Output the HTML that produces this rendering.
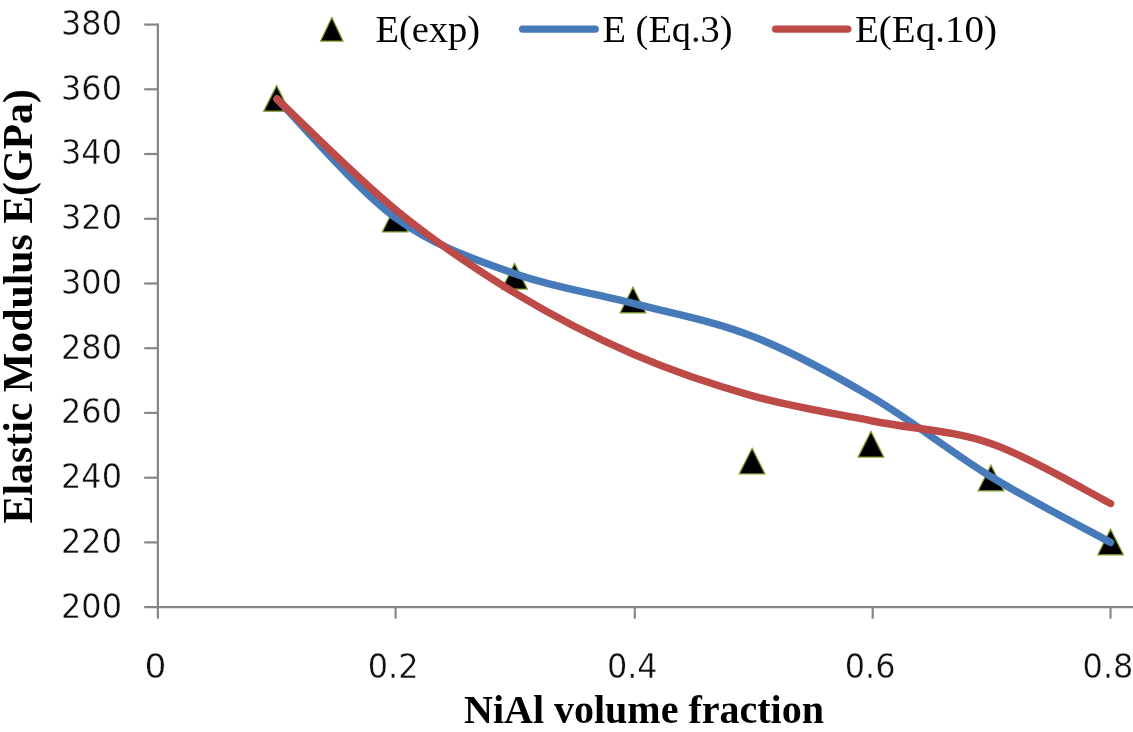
<!DOCTYPE html>
<html><head><meta charset="utf-8"><title>Elastic Modulus vs NiAl volume fraction</title>
<style>
html,body{margin:0;padding:0;background:#fff;}
body{width:1133px;height:732px;overflow:hidden;}
svg{display:block;}
.num{font-family:"DejaVu Sans","Liberation Sans",sans-serif;font-size:33.8px;fill:#101010;stroke:#fff;stroke-width:0.4px;}
.leg{font-family:"Liberation Serif",serif;font-size:38.5px;fill:#000;}
.ttl{font-family:"Liberation Serif",serif;font-weight:bold;fill:#000;}
</style></head><body>
<svg width="1133" height="732" viewBox="0 0 1133 732">
<rect width="1133" height="732" fill="#fff"/>
<g stroke="#878787" stroke-width="2.2" fill="none">
<line x1="157.9" y1="23.6" x2="157.9" y2="618.7"/>
<line x1="144.2" y1="607.1" x2="1133" y2="607.1"/>
<line x1="144.2" y1="542.4" x2="158" y2="542.4"/>
<line x1="144.2" y1="477.7" x2="158" y2="477.7"/>
<line x1="144.2" y1="412.9" x2="158" y2="412.9"/>
<line x1="144.2" y1="348.2" x2="158" y2="348.2"/>
<line x1="144.2" y1="283.5" x2="158" y2="283.5"/>
<line x1="144.2" y1="218.8" x2="158" y2="218.8"/>
<line x1="144.2" y1="154.0" x2="158" y2="154.0"/>
<line x1="144.2" y1="89.3" x2="158" y2="89.3"/>
<line x1="144.2" y1="24.6" x2="158" y2="24.6"/>
<line x1="395.6" y1="607" x2="395.6" y2="618.7"/>
<line x1="634.8" y1="607" x2="634.8" y2="618.7"/>
<line x1="872.7" y1="607" x2="872.7" y2="618.7"/>
<line x1="1110.5" y1="607" x2="1110.5" y2="618.7"/>
</g>
<g class="num">
<text x="122" y="617.5" text-anchor="end" textLength="61" lengthAdjust="spacingAndGlyphs">200</text>
<text x="122" y="552.8" text-anchor="end" textLength="61" lengthAdjust="spacingAndGlyphs">220</text>
<text x="122" y="488.1" text-anchor="end" textLength="61" lengthAdjust="spacingAndGlyphs">240</text>
<text x="122" y="423.3" text-anchor="end" textLength="61" lengthAdjust="spacingAndGlyphs">260</text>
<text x="122" y="358.6" text-anchor="end" textLength="61" lengthAdjust="spacingAndGlyphs">280</text>
<text x="122" y="293.9" text-anchor="end" textLength="61" lengthAdjust="spacingAndGlyphs">300</text>
<text x="122" y="229.2" text-anchor="end" textLength="61" lengthAdjust="spacingAndGlyphs">320</text>
<text x="122" y="164.4" text-anchor="end" textLength="61" lengthAdjust="spacingAndGlyphs">340</text>
<text x="122" y="99.7" text-anchor="end" textLength="61" lengthAdjust="spacingAndGlyphs">360</text>
<text x="122" y="35.0" text-anchor="end" textLength="61" lengthAdjust="spacingAndGlyphs">380</text>
<text x="155.4" y="678" text-anchor="middle" textLength="21.9" lengthAdjust="spacingAndGlyphs">0</text>
<text x="393.1" y="678" text-anchor="middle" textLength="50.8" lengthAdjust="spacingAndGlyphs">0.2</text>
<text x="632.3" y="678" text-anchor="middle" textLength="50.8" lengthAdjust="spacingAndGlyphs">0.4</text>
<text x="870.2" y="678" text-anchor="middle" textLength="50.8" lengthAdjust="spacingAndGlyphs">0.6</text>
<text x="1108.0" y="678" text-anchor="middle" textLength="50.8" lengthAdjust="spacingAndGlyphs">0.8</text>
</g>
<g fill="#000" stroke="#7f9e2b" stroke-width="1.25" stroke-linejoin="miter">
<path d="M276.6 85.6 L289.4 111.2 L263.7 111.2 Z"/>
<path d="M395.2 206.3 L408.1 231.9 L382.3 231.9 Z"/>
<path d="M514.6 263.5 L527.4 289.1 L501.7 289.1 Z"/>
<path d="M633.0 287.2 L645.8 312.8 L620.1 312.8 Z"/>
<path d="M752.1 448.3 L764.9 473.9 L739.2 473.9 Z"/>
<path d="M871.0 431.5 L883.8 457.1 L858.1 457.1 Z"/>
<path d="M991.0 465.2 L1003.8 490.8 L978.1 490.8 Z"/>
<path d="M1110.6 529.2 L1123.4 554.8 L1097.8 554.8 Z"/>
</g>
<path d="M276.9 99.0 C296.8 118.9 356.3 189.0 396.0 218.1 C435.7 247.2 475.4 259.5 515.1 273.8 C554.8 288.0 594.5 293.1 634.2 303.6 C673.9 314.0 713.6 320.9 753.3 336.6 C793.0 352.2 832.7 374.0 872.4 397.4 C912.1 420.8 951.8 452.8 991.5 477.0 C1031.2 501.2 1090.8 531.5 1110.6 542.4" fill="none" stroke="#467ab9" stroke-width="7.4" stroke-linecap="round" stroke-linejoin="round"/>
<path d="M276.9 99.0 C296.8 117.5 356.3 177.7 396.0 210.0 C435.7 242.4 475.4 269.1 515.1 293.2 C554.8 317.3 594.5 337.5 634.2 354.7 C673.9 371.8 713.6 385.0 753.3 396.1 C793.0 407.2 832.7 413.1 872.4 421.0 C912.1 429.0 951.8 429.9 991.5 443.7 C1031.2 457.4 1090.8 493.6 1110.6 503.5" fill="none" stroke="#be4a47" stroke-width="7.4" stroke-linecap="round" stroke-linejoin="round"/>
<g fill="#000" stroke="#7f9e2b" stroke-width="1.25">
<path d="M331.8 17.6 L343.0 41.0 L320.6 41.0 Z"/>
</g>
<line x1="522.6" y1="29.1" x2="595.2" y2="29.1" stroke="#467ab9" stroke-width="7.4" stroke-linecap="round"/>
<line x1="775.6" y1="29.1" x2="847.8" y2="29.1" stroke="#be4a47" stroke-width="7.4" stroke-linecap="round"/>
<g class="leg">
<text x="375.4" y="41.6">E(exp)</text>
<text x="602.6" y="41.6" textLength="130" lengthAdjust="spacingAndGlyphs">E (Eq.3)</text>
<text x="855" y="41.6" textLength="142" lengthAdjust="spacingAndGlyphs">E(Eq.10)</text>
</g>
<text class="ttl" font-size="40" x="464" y="723">NiAl volume fraction</text>
<text class="ttl" font-size="41.8" transform="translate(31.6 523.4) rotate(-90)">Elastic Modulus E(GPa)</text>
</svg>
</body></html>
